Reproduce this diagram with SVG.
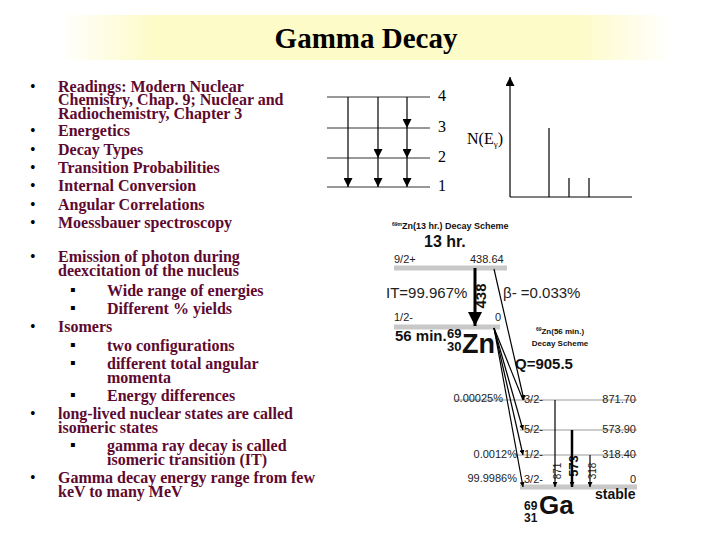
<svg xmlns="http://www.w3.org/2000/svg" width="720" height="540" viewBox="0 0 720 540">
<defs>
<linearGradient id="hdr" x1="0" x2="1" y1="0" y2="0"><stop offset="0" stop-color="#ffffff"/><stop offset="0.15" stop-color="#fdfbc8"/><stop offset="0.85" stop-color="#fdfbc8"/><stop offset="1" stop-color="#ffffff"/></linearGradient>
<marker id="ah" viewBox="0 0 10 10" refX="10" refY="5" markerWidth="9" markerHeight="9" markerUnits="userSpaceOnUse" orient="auto"><path d="M0,0L10,5L0,10z" fill="#000"/></marker>
<marker id="ahs" viewBox="0 0 10 10" refX="10" refY="5" markerWidth="5" markerHeight="5" markerUnits="userSpaceOnUse" orient="auto"><path d="M0,0L10,5L0,10z" fill="#000"/></marker>
<marker id="ahb" viewBox="0 0 10 10" refX="10" refY="5" markerWidth="14" markerHeight="14" markerUnits="userSpaceOnUse" orient="auto"><path d="M0,0L10,5L0,10z" fill="#000"/></marker>
<style>
.t{font-family:"Liberation Serif",serif;font-weight:bold;font-size:16px;fill:#5e0a30}
.b{font-family:"Liberation Serif",serif;font-size:16px;fill:#000}
.s{font-family:"Liberation Sans",Arial,sans-serif;fill:#222}
.sb{font-family:"Liberation Sans",Arial,sans-serif;font-weight:bold;fill:#111}
.ln{stroke:#000;stroke-width:1.2;fill:none}
.gl{stroke:#999;stroke-width:1}
.bar{stroke:#c8c8c8;stroke-width:5}
</style>
</defs>
<rect width="720" height="540" fill="#fff"/>
<rect x="60" y="15" width="612" height="45" fill="url(#hdr)"/>
<text x="366" y="48" text-anchor="middle" font-family="Liberation Serif,serif" font-weight="bold" font-size="29">Gamma Decay</text>
<g id="bullets">
<g class="b"><text x="30" y="92">•</text><text x="30" y="136">•</text><text x="30" y="155">•</text><text x="30" y="173">•</text><text x="30" y="191">•</text><text x="30" y="210">•</text><text x="30" y="228">•</text><text x="30" y="262">•</text><text x="30" y="332">•</text><text x="30" y="419">•</text><text x="30" y="483">•</text></g>
<g class="b" font-size="9"><text x="70" y="295">▪</text><text x="70" y="313">▪</text><text x="70" y="350">▪</text><text x="70" y="368">▪</text><text x="70" y="400">▪</text><text x="70" y="450">▪</text></g>
<g class="t">
<text x="58" y="92">Readings:  Modern Nuclear</text>
<text x="58" y="105">Chemistry, Chap. 9; Nuclear and</text>
<text x="58" y="119">Radiochemistry, Chapter 3</text>
<text x="58" y="136">Energetics</text>
<text x="58" y="155">Decay Types</text>
<text x="58" y="173">Transition Probabilities</text>
<text x="58" y="191">Internal Conversion</text>
<text x="58" y="210">Angular Correlations</text>
<text x="58" y="228">Moessbauer spectroscopy</text>
<text x="58" y="262">Emission of photon during</text>
<text x="58" y="276">deexcitation of the nucleus</text>
<text x="107" y="296">Wide range of energies</text>
<text x="107" y="314">Different % yields</text>
<text x="58" y="332">Isomers</text>
<text x="107" y="351">two configurations</text>
<text x="107" y="369">different total angular</text>
<text x="107" y="383">momenta</text>
<text x="107" y="401">Energy differences</text>
<text x="58" y="419">long-lived nuclear states are called</text>
<text x="58" y="433">isomeric states</text>
<text x="107" y="451">gamma ray decay is called</text>
<text x="107" y="465">isomeric transition (IT)</text>
<text x="58" y="483">Gamma decay energy range from few</text>
<text x="58" y="497">keV to many MeV</text>
</g>
</g>
<g id="levels">
<g stroke="#333" stroke-width="1"><line x1="327" y1="97" x2="430" y2="97"/><line x1="327" y1="128" x2="430" y2="128"/><line x1="327" y1="158" x2="430" y2="158"/><line x1="327" y1="187" x2="430" y2="187"/></g>
<g class="b" font-size="13"><text x="438" y="101">4</text><text x="438" y="132">3</text><text x="438" y="162">2</text><text x="438" y="191">1</text></g>
</g>
<g id="spectrum">
<line x1="510" y1="197" x2="510" y2="77" class="ln" marker-end="url(#ah)"/>
<line x1="510" y1="197" x2="632" y2="197" stroke="#000" stroke-width="1"/>
<g stroke="#000" stroke-width="1.2"><line x1="549" y1="197" x2="549" y2="128"/><line x1="569" y1="197" x2="569" y2="178"/><line x1="589" y1="197" x2="589" y2="178"/></g>
<text x="467" y="144" class="b" font-size="13">N(E<tspan font-size="9" dy="3">γ</tspan><tspan dy="-3">)</tspan></text>
</g>
<g id="scheme">
<text x="392" y="229" class="sb" font-size="9"><tspan font-size="5" dy="-3">69m</tspan><tspan dy="3">Zn(13 hr.) Decay Scheme</tspan></text>
<text x="424" y="247" class="sb" font-size="16">13 hr.</text>
<text x="394" y="263" class="s" font-size="11">9/2+</text>
<text x="470" y="263" class="s" font-size="11">438.64</text>
<line x1="394" y1="268" x2="507" y2="268" class="bar"/>
<text x="386" y="298" class="s" font-size="15">IT=99.967%</text>
<text x="503" y="298" class="s" font-size="15">β- =0.033%</text>
<text x="486" y="296" class="sb" font-size="15" transform="rotate(-90 486 296)" text-anchor="middle">438</text>
<text x="394" y="321" class="s" font-size="11">1/2-</text>
<text x="495" y="321" class="s" font-size="11">0</text>
<line x1="394" y1="327" x2="500" y2="327" class="bar"/>
<text x="395" y="341" class="sb" font-size="15">56 min.</text>
<text x="447" y="338" class="sb" font-size="13">69</text>
<text x="447" y="351" class="sb" font-size="13">30</text>
<text x="462" y="353" class="sb" font-size="27">Zn</text>
<text x="560" y="334" class="sb" font-size="8" text-anchor="middle"><tspan font-size="5" dy="-3">69</tspan><tspan dy="3">Zn(56 min.)</tspan></text>
<text x="560" y="346" class="sb" font-size="8" text-anchor="middle">Decay Scheme</text>
<text x="515" y="369" class="sb" font-size="15">Q=905.5</text>
<line x1="455" y1="400" x2="637" y2="400" class="gl"/>
<line x1="520" y1="430" x2="637" y2="430" class="gl"/>
<line x1="515" y1="455" x2="637" y2="455" class="gl"/>
<line x1="520" y1="487" x2="637" y2="487" class="bar"/>
<g class="s" font-size="11">
<text x="503" y="402" text-anchor="end">0.00025%</text>
<text x="524" y="403">3/2-</text><text x="636" y="403" text-anchor="end">871.70</text>
<text x="524" y="433">5/2-</text><text x="636" y="433" text-anchor="end">573.90</text>
<text x="517" y="458" text-anchor="end">0.0012%</text>
<text x="524" y="458">1/2-</text><text x="636" y="458" text-anchor="end">318.40</text>
<text x="517" y="482" text-anchor="end">99.9986%</text>
<text x="524" y="483">3/2-</text><text x="636" y="483" text-anchor="end">0</text>
</g>
<text x="524" y="510" class="sb" font-size="12">69</text>
<text x="524" y="522" class="sb" font-size="12">31</text>
<text x="539" y="514" class="sb" font-size="26">Ga</text>
<text x="595" y="499" class="sb" font-size="14">stable</text>
<text x="561" y="471" class="s" font-size="10" transform="rotate(-90 561 471)" text-anchor="middle">871</text>
<text x="578" y="466" class="sb" font-size="13" transform="rotate(-90 578 466)" text-anchor="middle">573</text>
<text x="596" y="471" class="s" font-size="10" transform="rotate(-90 596 471)" text-anchor="middle">318</text>
</g>
<g id="connectors">
<g stroke="#000" stroke-width="1.2" fill="none">
<line x1="348" y1="97" x2="348" y2="187" marker-end="url(#ah)"/>
<line x1="378" y1="97" x2="378" y2="158" marker-end="url(#ah)"/>
<line x1="378" y1="158" x2="378" y2="187" marker-end="url(#ah)"/>
<line x1="407" y1="97" x2="407" y2="128" marker-end="url(#ah)"/>
<line x1="407" y1="128" x2="407" y2="158" marker-end="url(#ah)"/>
<line x1="407" y1="158" x2="407" y2="187" marker-end="url(#ah)"/>
<line x1="494" y1="269" x2="524" y2="400" marker-end="url(#ahs)"/>
<line x1="494" y1="328" x2="523" y2="400"/>
<line x1="494" y1="328" x2="523" y2="430" marker-end="url(#ahs)"/>
<line x1="494" y1="328" x2="523" y2="455" marker-end="url(#ahs)"/>
<line x1="494" y1="328" x2="523" y2="487" marker-end="url(#ahs)"/>
<line x1="555" y1="400" x2="555" y2="487" marker-end="url(#ahs)"/>
<line x1="590" y1="455" x2="590" y2="487" marker-end="url(#ahs)"/>
</g>
<line x1="475" y1="268" x2="475" y2="326" stroke="#000" stroke-width="3" marker-end="url(#ahb)"/>
<line x1="572" y1="430" x2="572" y2="487" stroke="#000" stroke-width="2.5" marker-end="url(#ahs)"/>
</g>
</svg>
